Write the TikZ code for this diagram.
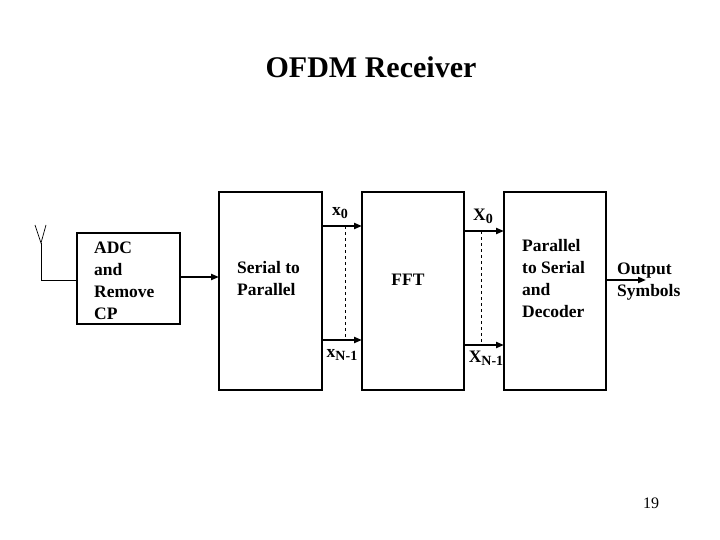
\documentclass[tikz,border=0pt]{standalone}
\usepackage{fontspec}
\setmainfont{Liberation Serif}
\usetikzlibrary{arrows.meta}
\newcommand{\mysub}[1]{\raisebox{-0.35ex}{\fontsize{14}{14}\selectfont #1}}
\begin{document}
\begin{tikzpicture}[x=1pt,y=-1pt,
  box/.style={draw,line width=2pt},
  lbl/.style={font=\bfseries\fontsize{17.5}{22}\selectfont,align=left,inner sep=0},
  arr/.style={line width=2pt,-{Triangle[length=8pt,width=6pt]}},
  sub/.style={font=\bfseries\fontsize{17.5}{18}\selectfont,inner sep=0}]
\useasboundingbox (0,0) rectangle (720,540);
\node[font=\bfseries\fontsize{30}{32}\selectfont] (title) at (371,67) {OFDM Receiver};
\draw[box] (77,233) rectangle (180,324);
\coordinate (adcL) at (77,280); \coordinate (adcR) at (180,277);
\node[lbl,anchor=west] (adc) at (94,281) {ADC\\and\\Remove\\CP};
\draw[box] (219,192) rectangle (322,390);
\node[lbl,anchor=west] (sp) at (237,279) {Serial to\\Parallel};
\coordinate (spL) at (219,277);
\draw[box] (362,192) rectangle (464,390);
\node[lbl] (fft) at (408,280) {FFT};
\draw[box] (504,192) rectangle (606,390);
\node[lbl,align=left,anchor=west] (ps) at (522,279) {Parallel\\to Serial\\and\\Decoder};
% antenna
\coordinate (at) at (41,243); \coordinate (ab) at (41,280);
\coordinate (vl) at (35,225); \coordinate (vr) at (46,225);
\draw[line width=0.7pt] (vl) -- (at) -- (vr);
\draw[line width=0.7pt] (at) -- (ab) -- (adcL);
\draw[arr] (adcR) -- (spL);
% parallel lines
\coordinate (a1) at (322,226); \coordinate (b1) at (362,226);
\coordinate (a2) at (322,340); \coordinate (b2) at (362,340);
\draw[arr] (a1) -- (b1); \draw[arr] (a2) -- (b2);
\coordinate (d1) at (345,226); \coordinate (d2) at (345,340);
\draw[dashed,line width=0.5pt] (d1) -- (d2);
\node[sub] (x0) at (340,213) {x\mysub{0}};
\node[sub] (xn) at (342,355) {x\mysub{N-1}};
\coordinate (c1) at (464,231); \coordinate (e1) at (504,231);
\coordinate (c2) at (464,345); \coordinate (e2) at (504,345);
\draw[arr] (c1) -- (e1); \draw[arr] (c2) -- (e2);
\coordinate (f1) at (481,231); \coordinate (f2) at (481,345);
\draw[dashed,line width=0.5pt] (f1) -- (f2);
\node[sub] (X0) at (483,216) {X\mysub{0}};
\node[sub] (XN) at (486,358) {X\mysub{N-1}};
\coordinate (o1) at (606,280); \coordinate (o2) at (646,280);
\draw[arr] (o1) -- (o2);
\node[lbl,anchor=west] (out) at (617,282) {Output\\Symbols};
\node[font=\fontsize{16}{16}\selectfont] (pg) at (651,503) {19};
\end{tikzpicture}
\end{document}
